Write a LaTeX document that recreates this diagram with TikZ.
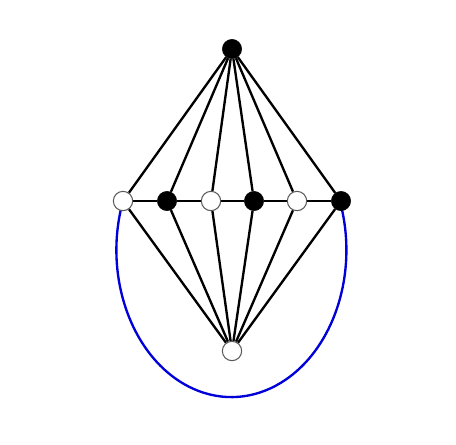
\documentclass[tikz,border=0pt]{standalone}
\usepackage{tikz}
\usetikzlibrary{positioning,backgrounds}

\begin{document}
\begin{tikzpicture}[x=0.03cm,y=-0.03cm,line cap=round]
  % Colors
  \colorlet{loopcolor}{blue!85!black}

  % Styles
  \tikzstyle{black vertex}=[circle,fill=black,draw=black,inner sep=0pt,minimum size=0.58cm]
  \tikzstyle{white vertex}=[circle,fill=white,draw=black!65,line width=0.9pt,inner sep=0pt,minimum size=0.58cm]
  \tikzstyle{edge}=[line width=2pt]

  \useasboundingbox (0,0) rectangle (456,444);

  % The vertices
  \node[black vertex] (top) at (232,49) {};
  \node[white vertex] (bot) at (232,351) {};
  \node[white vertex] (m1) at (123,201) {};
  \node[black vertex] (m2) at (167,201) {};
  \node[white vertex] (m3) at (211,201) {};
  \node[black vertex] (m4) at (254,201) {};
  \node[white vertex] (m5) at (297,201) {};
  \node[black vertex] (m6) at (341,201) {};

  \begin{scope}[on background layer]
    % The edges
    \foreach \i in {1,...,6} {
      \draw[edge] (top) -- (m\i);
      \draw[edge] (bot) -- (m\i);
    }
    \foreach \i/\j in {1/2,2/3,3/4,4/5,5/6}
      \draw[edge] (m\i) -- (m\j);

    % Outer curve
    \draw[loopcolor,edge] (m1.center) arc[start angle=199.5,end angle=-19.5,x radius=115,y radius=147];
  \end{scope}
\end{tikzpicture}
\end{document}
